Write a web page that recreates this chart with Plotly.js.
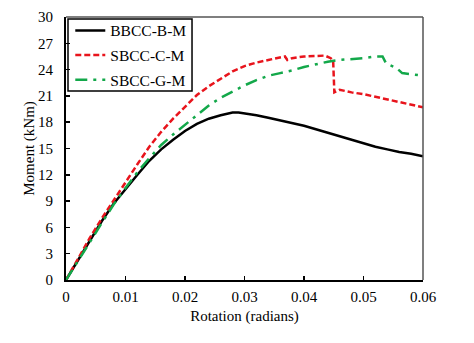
<!DOCTYPE html>
<html>
<head>
<meta charset="utf-8">
<script src="https://cdn.plot.ly/plotly-3.0.1.min.js"></script>
<style>html,body{margin:0;padding:0;background:#fff;}#chart{width:474px;height:343px;}</style>
</head>
<body>
<div id="chart"></div>
<script>
const seriesNames = ["BBCC-B-M", "SBCC-C-M", "SBCC-G-M"];

const bx = [0,0.002,0.004,0.006,0.008,0.010,0.012,0.014,0.016,0.018,0.020,0.022,0.024,0.026,0.028,0.029,0.030,0.032,0.034,0.036,0.038,0.040,0.042,0.044,0.046,0.048,0.050,0.052,0.054,0.056,0.058,0.060];
const by = [0,2.2,4.5,6.7,8.7,10.4,12.0,13.6,14.9,16.0,17.0,17.8,18.4,18.8,19.1,19.1,19.0,18.8,18.5,18.2,17.9,17.6,17.2,16.8,16.4,16.0,15.6,15.2,14.9,14.6,14.4,14.1];

const rx = [0,0.002,0.004,0.006,0.008,0.010,0.012,0.014,0.016,0.018,0.020,0.022,0.024,0.026,0.028,0.030,0.032,0.034,0.036,0.0368,0.0372,0.038,0.040,0.042,0.0435,0.0445,0.0449,0.0451,0.046,0.048,0.050,0.052,0.054,0.056,0.058,0.060];
const ry = [0,2.4,4.8,7.0,9.1,11.2,13.2,15.2,16.9,18.4,19.8,21.1,22.1,23.0,23.8,24.4,24.8,25.1,25.4,25.5,25.1,25.3,25.5,25.6,25.6,25.3,25.0,21.4,21.7,21.4,21.2,20.9,20.6,20.3,20.0,19.7];

const gx = [0,0.002,0.004,0.006,0.008,0.010,0.012,0.014,0.016,0.018,0.020,0.022,0.024,0.026,0.028,0.030,0.032,0.034,0.036,0.038,0.040,0.042,0.044,0.046,0.048,0.050,0.052,0.0532,0.0538,0.0555,0.0565,0.058,0.060];
const gy = [0,2.1,4.3,6.5,8.6,10.5,12.3,13.9,15.4,16.6,17.7,18.8,19.9,20.8,21.5,22.2,22.8,23.3,23.6,23.9,24.3,24.6,24.9,25.1,25.2,25.3,25.5,25.5,24.7,24.2,23.6,23.5,23.3];

const xTicks = [0,0.01,0.02,0.03,0.04,0.05,0.06];
const xTickText = ["0","0.01","0.02","0.03","0.04","0.05","0.06"];
const yTicks = [0,3,6,9,12,15,18,21,24,27,30];

const serif = '"Liberation Serif","Times New Roman",serif';

const traces = [
  {x: bx, y: by, name: seriesNames[0], legendgroup: "a", mode: "lines",
   line: {color: "#000000", width: 2.5}},
  {x: rx, y: ry, name: seriesNames[1], legendgroup: "b", mode: "lines",
   line: {color: "#e8141c", width: 2.5, dash: "6px,3px"}},
  {x: gx, y: gy, name: seriesNames[2], legendgroup: "c", mode: "lines",
   line: {color: "#13a84a", width: 2.5, dash: "12px,6px,3px,6px"}}
];

const layout = {
  width: 474, height: 343,
  margin: {l: 66, r: 51, t: 17, b: 63},
  paper_bgcolor: "#ffffff", plot_bgcolor: "#ffffff",
  font: {family: serif, color: "#000000", size: 15},
  showlegend: true,
  legend: {x: 0.012, y: 1.012, xanchor: "left", yanchor: "top",
    bgcolor: "rgba(0,0,0,0)", borderwidth: 0,
    font: {family: serif, size: 15.5, color: "#000000"}, tracegroupgap: 1.5},
  xaxis: {range: [0, 0.06], tickvals: xTicks, ticktext: xTickText,
    showgrid: false, zeroline: false, showline: true, linecolor: "#000000", linewidth: 2,
    ticks: "inside", ticklen: 4, tickwidth: 1.5, tickcolor: "#000000",
    tickfont: {family: serif, size: 15}, ticklabelstandoff: 2,
    title: {text: "Rotation (radians)", font: {family: serif, size: 15}, standoff: 6}},
  yaxis: {range: [0, 30], tickvals: yTicks,
    showgrid: false, zeroline: false, showline: true, linecolor: "#000000", linewidth: 2,
    ticks: "inside", ticklen: 4, tickwidth: 1.5, tickcolor: "#000000",
    tickfont: {family: serif, size: 15}, ticklabelstandoff: 8,
    title: {text: "Moment (kNm)", font: {family: serif, size: 15}, standoff: 0}},
  shapes: [
    {type: "rect", xref: "paper", yref: "paper", x0: 0.0056, x1: 0.353, y0: 0.7186, y1: 0.9924,
     fillcolor: "#ffffff", line: {color: "#000000", width: 1.5}, layer: "below"},
    {type: "line", xref: "paper", yref: "paper", x0: 0, x1: 1, y0: 1, y1: 1, line: {color: "#555555", width: 1.5}},
    {type: "line", xref: "paper", yref: "paper", x0: 1, x1: 1, y0: 0, y1: 1, line: {color: "#555555", width: 1.5}}
  ]
};

Plotly.newPlot("chart", traces, layout, {displayModeBar: false, staticPlot: true});
</script>
</body>
</html>
